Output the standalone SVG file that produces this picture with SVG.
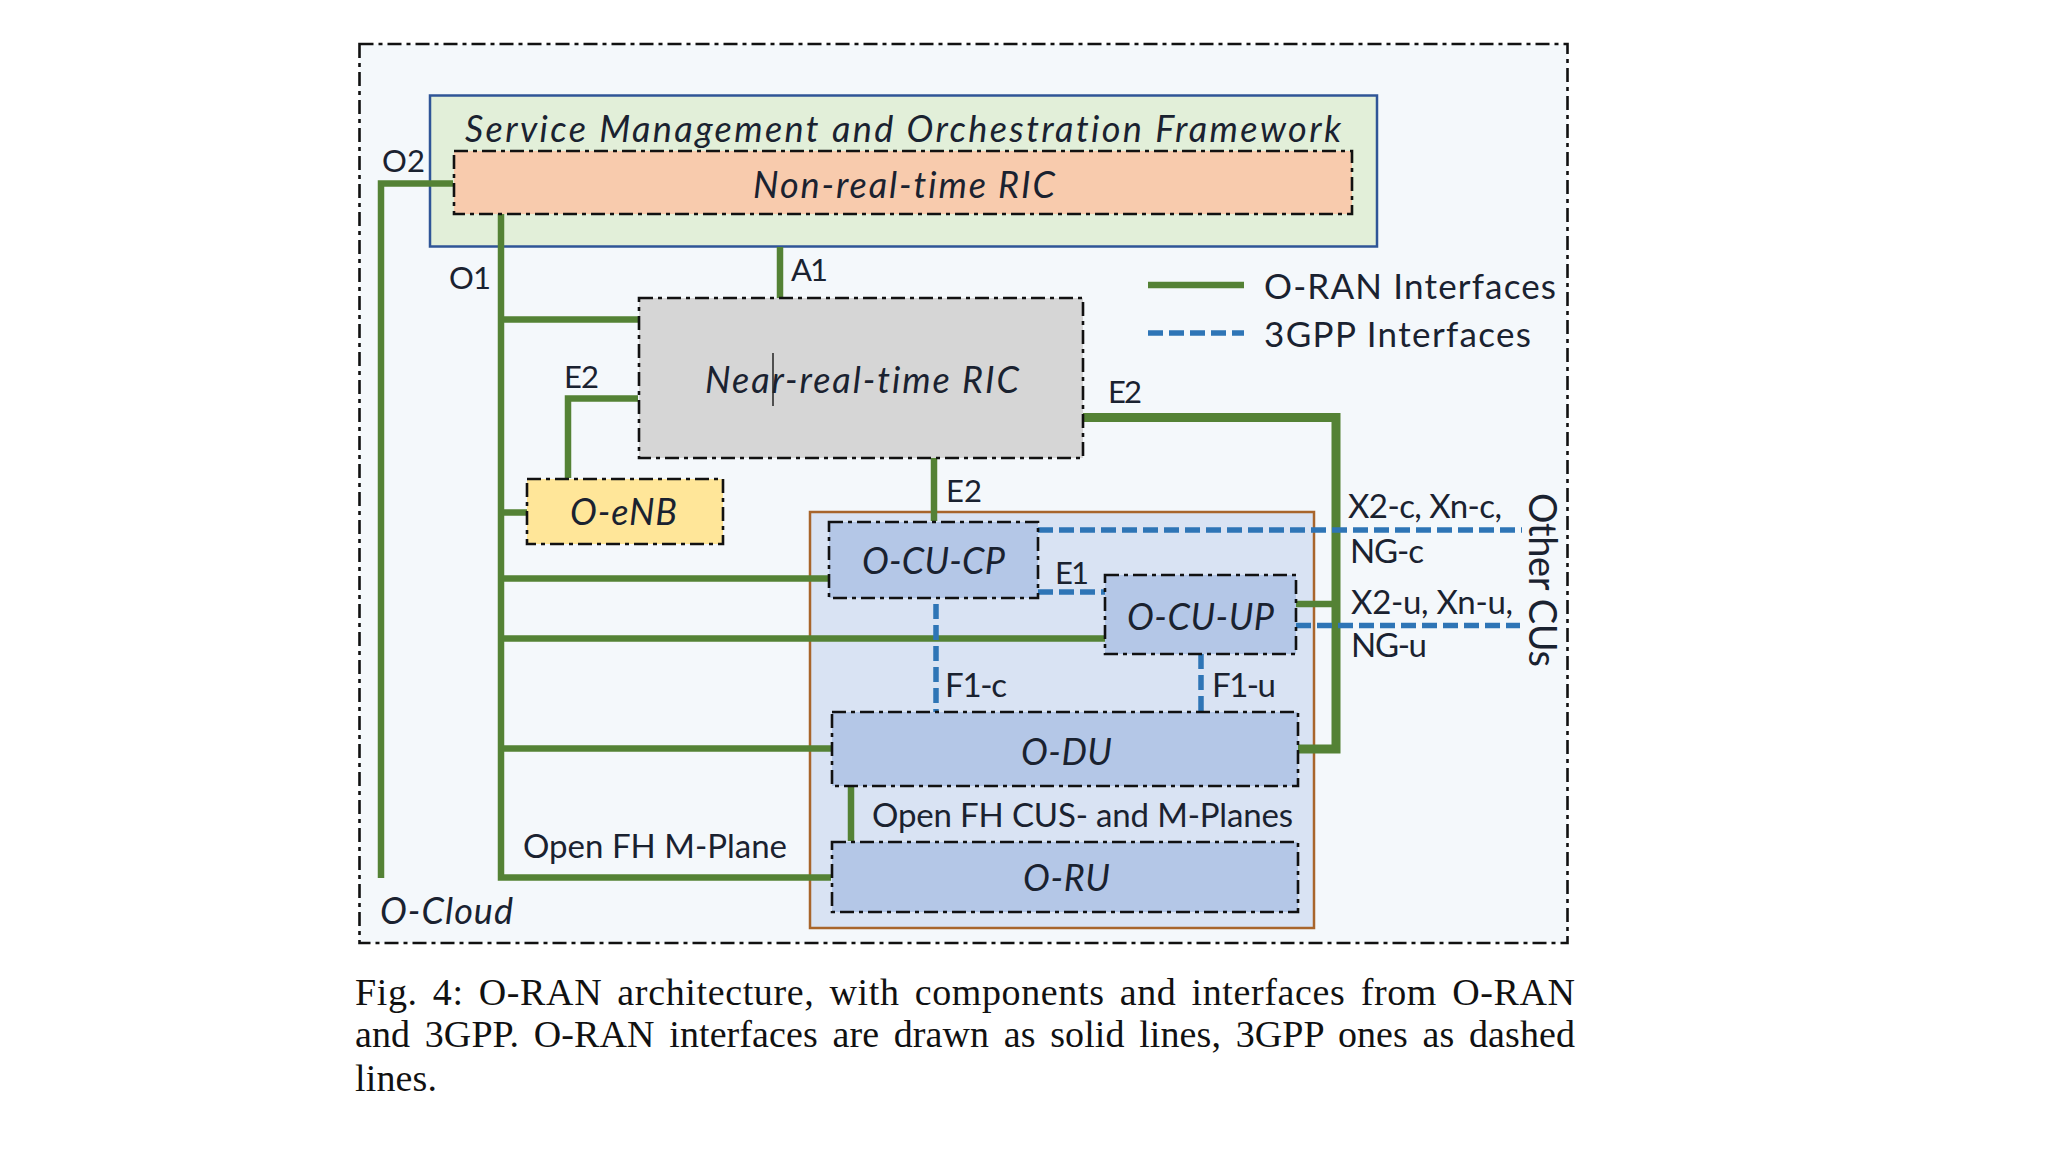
<svg xmlns="http://www.w3.org/2000/svg" width="2048" height="1152" viewBox="0 0 2048 1152">
<style>
.dd{stroke:#111;stroke-width:2.600;stroke-dasharray:14 5 4 5}
.n{font-family:"Lato","Open Sans",sans-serif;font-size:33px;fill:#1a2230;font-variant-ligatures:none}
.s{font-size:31px}
.i{font-style:italic;font-size:36px}
.g{fill:none;stroke:#548235;stroke-width:6.500}
.gt{stroke-width:9}
.b{fill:none;stroke:#2e75b6;stroke-width:5.500;stroke-dasharray:15 6}
.c{font-family:"Liberation Serif","Times New Roman",serif;font-size:38px;fill:#111}
</style>
<rect width="2048" height="1152" fill="#fff"/>
<g id="o-cloud"><rect class="dd" x="359.500" y="44" width="1208" height="899" fill="#f4f8fb"/><text class="n i" x="380" y="924" textLength="133">O-Cloud</text></g>
<g id="smo"><rect x="430" y="95.500" width="947" height="151" fill="#e2efd9" stroke="#2f5597" stroke-width="2.500"/><text class="n i" x="465" y="142" textLength="876">Service Management and Orchestration Framework</text></g>
<g id="du-group"><rect x="810" y="512" width="507" height="416" fill="#d9e3f3" stroke="#a8652b" stroke-width="2.500" transform="translate(-1.500 0)" style="display:none"/><rect x="810" y="512" width="504" height="416" fill="#d9e3f3" stroke="#a8652b" stroke-width="2.500"/></g>
<g id="connectors">
<path class="g" d="M381 878V183.500H453"/>
<path class="g" d="M501 214V877.500H831M501 319.500H638M501 512.500H527M501 578.500H828M501 638.500H1105M501 748.500H831"/>
<path class="g" d="M568 478V398.500H638M780 247V298M934 458V521M851 786V841M1296 604H1336"/>
<path class="g gt" d="M1082 417.500H1336V749H1298"/>
<path class="g" d="M1148 285H1244"/>
<path class="b" d="M1038 530H1522M1296 625.500H1520M1038 592H1105M936 604V712M1201 654V712M1148 333H1244"/>
</g>
<g id="non-rt-ric"><rect class="dd" x="454" y="151" width="898" height="63" fill="#f8cbad"/><text class="n i" x="753" y="198" textLength="302">Non-real-time RIC</text></g>
<g id="near-rt-ric"><rect class="dd" x="639" y="298" width="444" height="160" fill="#d6d6d6"/><text class="n i" x="705" y="393" textLength="314">Near-real-time RIC</text><path d="M773 353V406" stroke="#222" stroke-width="1.500"/></g>
<g id="o-enb"><rect class="dd" x="527" y="479" width="196" height="65" fill="#ffe699"/><text class="n i" x="570" y="525" textLength="107">O-eNB</text></g>
<g id="o-cu-cp"><rect class="dd" x="829" y="522" width="209" height="76" fill="#b4c7e7"/><text class="n i" x="862" y="574" textLength="143">O-CU-CP</text></g>
<g id="o-cu-up"><rect class="dd" x="1105" y="575" width="191" height="79" fill="#b4c7e7"/><text class="n i" x="1127" y="630" textLength="147">O-CU-UP</text></g>
<g id="o-du"><rect class="dd" x="832" y="712" width="466" height="74" fill="#b4c7e7"/><text class="n i" x="1021" y="765" textLength="91">O-DU</text></g>
<g id="o-ru"><rect class="dd" x="832" y="842" width="466" height="70" fill="#b4c7e7"/><text class="n i" x="1023" y="891" textLength="87">O-RU</text></g>
<g id="labels">
<text class="n s" x="382" y="172" textLength="43">O2</text>
<text class="n s" x="449" y="289" textLength="42">O1</text>
<text class="n s" x="791" y="281" textLength="37">A1</text>
<text class="n s" x="564" y="388" textLength="35">E2</text>
<text class="n s" x="946" y="502" textLength="36">E2</text>
<text class="n s" x="1108" y="403" textLength="34">E2</text>
<text class="n s" x="1055" y="584" textLength="34">E1</text>
<text class="n" x="945" y="697" textLength="62">F1-c</text>
<text class="n" x="1212" y="697" textLength="64">F1-u</text>
<text class="n" x="1348" y="518" textLength="154">X2-c, Xn-c,</text>
<text class="n" x="1350" y="563" textLength="74">NG-c</text>
<text class="n" x="1351" y="614" textLength="162">X2-u, Xn-u,</text>
<text class="n" x="1351" y="657" textLength="76">NG-u</text>
<text class="n" x="872" y="827" textLength="421">Open FH CUS- and M-Planes</text>
<text class="n" x="523" y="858" textLength="264">Open FH M-Plane</text>
<text class="n" transform="translate(1529 493) rotate(90)" style="font-size:38px" textLength="174">Other CUs</text>
<text class="n" x="1264" y="299" style="font-size:35px" textLength="292">O-RAN Interfaces</text>
<text class="n" x="1264" y="347" style="font-size:35px" textLength="267">3GPP Interfaces</text>
</g>
<g id="caption">
<text class="c" x="355" y="1005" textLength="1220" style="word-spacing:5px">Fig. 4: O-RAN architecture, with components and interfaces from O-RAN</text>
<text class="c" x="355" y="1047" textLength="1220" style="word-spacing:5px">and 3GPP. O-RAN interfaces are drawn as solid lines, 3GPP ones as dashed</text>
<text class="c" x="355" y="1091" textLength="82">lines.</text>
</g>
</svg>
